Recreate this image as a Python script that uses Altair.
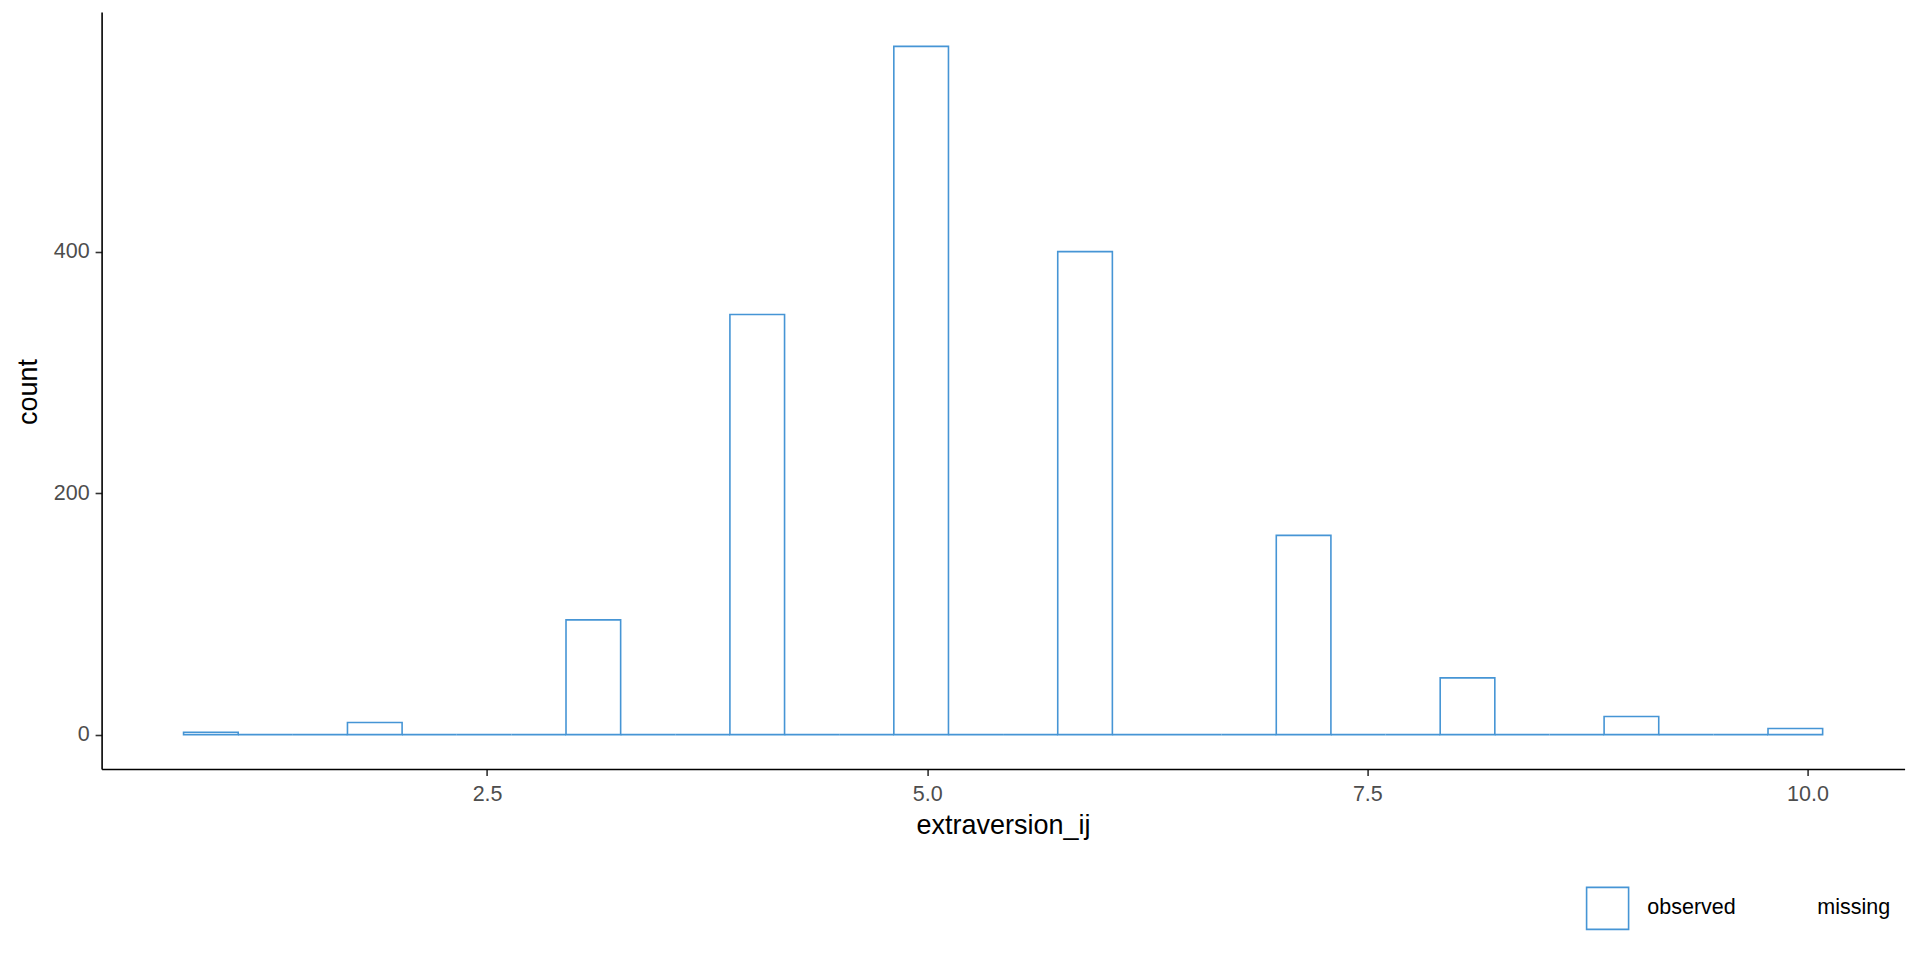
import altair as alt
import numpy as np
import pandas as pd

# ---- data ----
values = [1, 2, 3, 4, 5, 6, 7, 8, 9, 10]
counts = [2, 10, 95, 348, 570, 400, 165, 47, 15, 5]
groups = ["observed", "missing"]
group_colors = ["#4695D5", "transparent"]
x_ticks = [2.5, 5.0, 7.5, 10.0]
y_ticks = [0, 200, 400]
n_bins = 30

# ---- histogram bins (ggplot2 style, bins = 30) ----
lo, hi = min(values), max(values)
bw = (hi - lo) / (n_bins - 1)
boundary = bw / 2
origin = boundary + np.floor((lo - boundary) / bw) * bw
edges = origin + bw * np.arange(n_bins + 1)
hist, _ = np.histogram(values, bins=edges, weights=counts)

df = pd.DataFrame({
    "x": edges[:-1],
    "x2": edges[1:],
    "count": hist,
    "y0": 0,
    "group": "observed",
})

span = edges[-1] - edges[0]
x_dom = [float(edges[0] - 0.05 * span), float(edges[-1] + 0.05 * span)]
ymax = float(hist.max())
y_dom = [-0.05 * ymax, 1.05 * ymax]

FONT = "Liberation Sans"

chart = alt.Chart(df).mark_rect(filled=False, strokeWidth=1.6).encode(
    x=alt.X(
        "x:Q",
        scale=alt.Scale(domain=x_dom, nice=False, zero=False),
        axis=alt.Axis(
            values=x_ticks, format=".1f", title="extraversion_ij", grid=False,
            domainColor="black", domainWidth=1.6,
            tickColor="#333333", tickWidth=1.6, tickSize=6.5,
            labelColor="#4D4D4D", labelFontSize=21.5, labelFont=FONT,
            labelPadding=25, labelBaseline="alphabetic",
            labelFlush=False, labelOverlap=False,
            titleFontSize=27, titleFont=FONT, titleFontWeight="normal",
            titleColor="black", titleY=65, titleBaseline="alphabetic",
        ),
    ),
    x2="x2:Q",
    y=alt.Y(
        "y0:Q",
        scale=alt.Scale(domain=y_dom, nice=False, zero=False),
        axis=alt.Axis(
            values=y_ticks, title="count", grid=False,
            domainColor="black", domainWidth=1.6,
            tickColor="#333333", tickWidth=1.6, tickSize=6.5,
            labelColor="#4D4D4D", labelFontSize=21.5, labelFont=FONT,
            labelPadding=6, labelBaseline="middle",
            labelFlush=False, labelOverlap=False,
            titleFontSize=27, titleFont=FONT, titleFontWeight="normal",
            titleColor="black", titleX=-65, titleY=379.4, titleAngle=270,
            titleAlign="center", titleBaseline="alphabetic",
        ),
    ),
    y2="count:Q",
    stroke=alt.Stroke(
        "group:N",
        scale=alt.Scale(domain=groups, range=group_colors),
        legend=alt.Legend(
            title=None, orient="none", legendX=1484, legendY=874,
            direction="horizontal", symbolType="square", symbolSize=1764,
            symbolStrokeWidth=1.6, symbolFillColor="transparent",
            labelFontSize=21.5, labelFont=FONT, labelColor="black",
            labelOffset=17.7, columnPadding=16, padding=0,
        ),
    ),
).properties(
    width=1803,
    height=757,
    autosize=alt.AutoSizeParams(type="none"),
    padding={"left": 93.6, "top": 4, "right": 5, "bottom": 180},
).configure_view(strokeWidth=0)

chart.save("out.html", embed_options={"renderer": "svg", "actions": False})
